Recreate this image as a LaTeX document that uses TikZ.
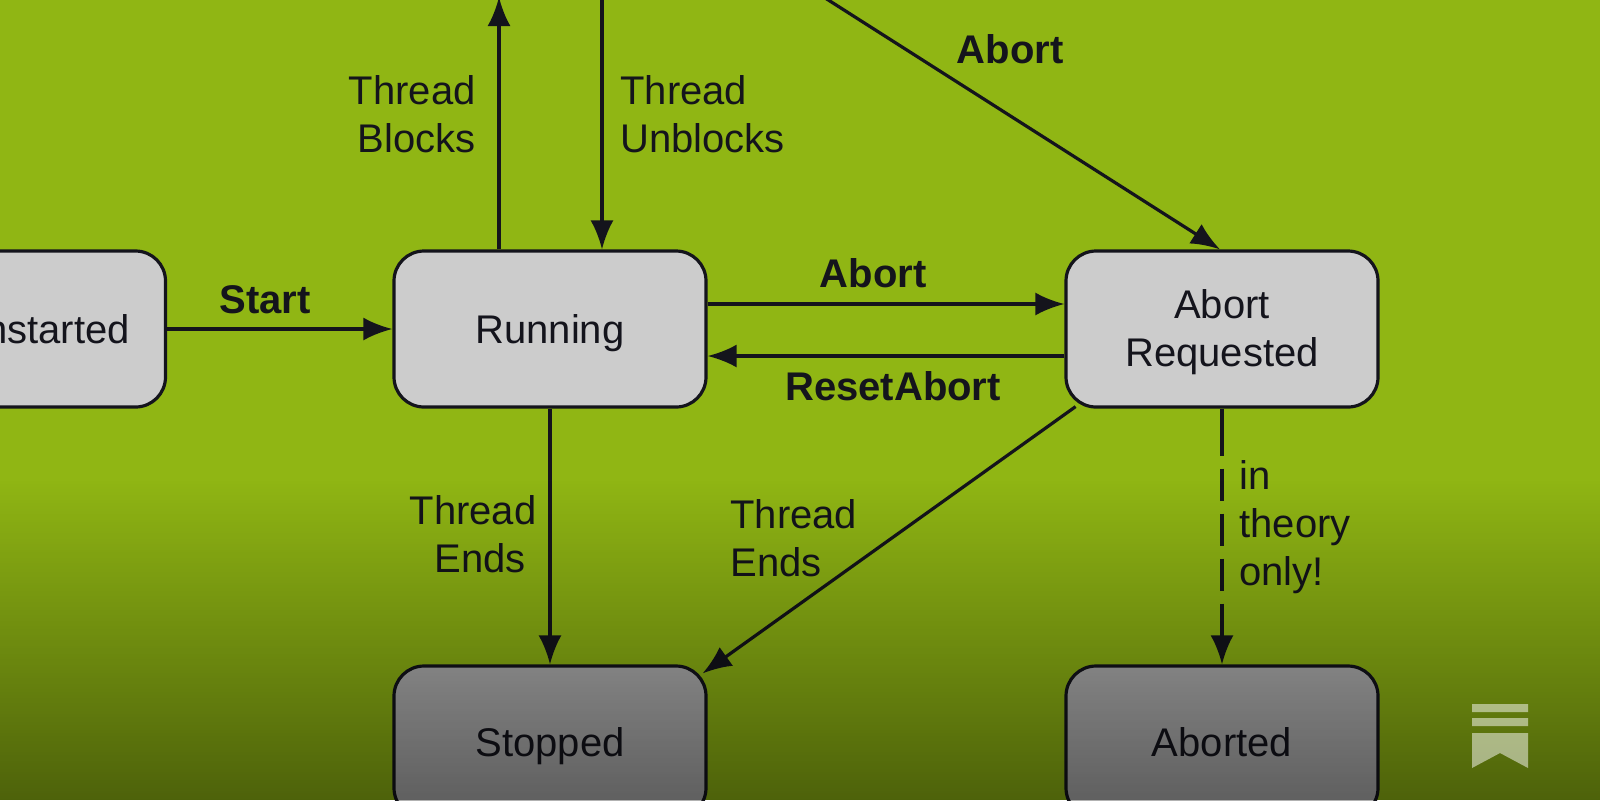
\documentclass[tikz,border=0pt]{standalone}
\usepackage{fontspec}
\setmainfont{Liberation Sans}
\usetikzlibrary{arrows.meta,positioning,fadings}
\definecolor{bggreen}{HTML}{90B614}
\definecolor{inkdark}{HTML}{14141C}
\tikzfading[name=fade lower,top color=transparent!100,bottom color=transparent!54]
\tikzset{
  >={Latex[length=14.5pt,width=11.5pt]},
  state/.style={draw=inkdark,line width=1.6pt,rounded corners=15pt,fill=#1,
    minimum width=156pt,minimum height=78pt,align=center,text=inkdark,
    text height=18pt,text depth=3.7pt,
    font=\fontsize{20}{24}\selectfont},
  state/.default={black!20},
  flow/.style={draw=inkdark,line width=1.6pt,->},
  lbl/.style={inner sep=0pt,text=inkdark,font=\fontsize{20}{24}\selectfont},
  boldlbl/.style={lbl,font=\fontsize{20}{24}\selectfont\bfseries}
}
\begin{document}
\begin{tikzpicture}[x=0.5pt,y=-0.5pt,on grid]
  \clip (0,0) rectangle (1600,800);
  \fill[bggreen] (0,0) rectangle (1600,800);

  \node[state] (running) at (550,329) {Running};
  \node[state,minimum width=122.5pt] (unstarted) [left=253.5pt of running] {Unstarted};
  \node[state,text height=40pt,text depth=2.5pt] (abortreq) [right=336pt of running] {Abort\\Requested};
  \node[state=black!30,minimum height=76pt] (stopped) [below=206.5pt of running] {Stopped};
  \node[state=black!30,minimum height=76pt] (aborted) [below=206.5pt of abortreq] {Aborted};

  \coordinate (blockstop) at (499,-3);
  \coordinate (unblockstop) at (602,0);
  \coordinate (aborttop) at (822,-4);

  \draw[flow] (unstarted) -- (running);
  \draw[flow] (running.north -| blockstop) -- (blockstop);
  \draw[flow] (unblockstop) -- (running.north -| unblockstop);
  \draw[flow] (aborttop) -- ([xshift=-1pt]abortreq.north);
  \draw[flow] ([yshift=12.5pt]running.east) -- ([yshift=12.5pt]abortreq.west);
  \draw[flow] ([yshift=-13.5pt]abortreq.west) -- ([yshift=-13.5pt]running.east);
  \draw[flow] (running) -- (stopped);
  \draw[flow] ([xshift=5.6pt,yshift=1pt]abortreq.south west) -- ([xshift=-2.5pt,yshift=-4.5pt]stopped.north east);
  \draw[flow,dash pattern=on 23.5pt off 6.5pt on 16pt off 6.5pt on 16pt off 6.5pt on 16pt off 6.5pt on 40pt off 0pt] (abortreq) -- (aborted);

  \node[boldlbl] (lblstart) at (265,300) {Start};
  \node[boldlbl] (lblabort) at (1010,49) {Abort};
  \node[boldlbl] (lblabortb) at (873,273) {Abort};
  \node[boldlbl] (lblreset) at (893,386) {ResetAbort};
  \node[lbl,align=right,anchor=east] (lblblocks) at (476,114) {Thread\\Blocks};
  \node[lbl,align=left,anchor=west] (lblunblocks) at (620,114) {Thread\\Unblocks};
  \node[lbl,align=center] (lblends) at (473,534) {Thread\\\hspace*{7pt}Ends};
  \node[lbl,align=left,anchor=west] (lblendsb) at (730,538) {Thread\\Ends};
  \node[lbl,align=left,anchor=west] (lbltheory) at (1239,527) {in\\theory\\only!};

  % darkening towards the bottom edge
  \fill[black,path fading=fade lower] (-10,480) rectangle (1610,800);

  % bookmark mark
  \fill[white,opacity=.5] (1472,704) rectangle (1528,712)
    (1472,718) rectangle (1528,726)
    (1472,733) -- (1528,733) -- (1528,768) -- (1500,753) -- (1472,768) -- cycle;
\end{tikzpicture}
\end{document}
